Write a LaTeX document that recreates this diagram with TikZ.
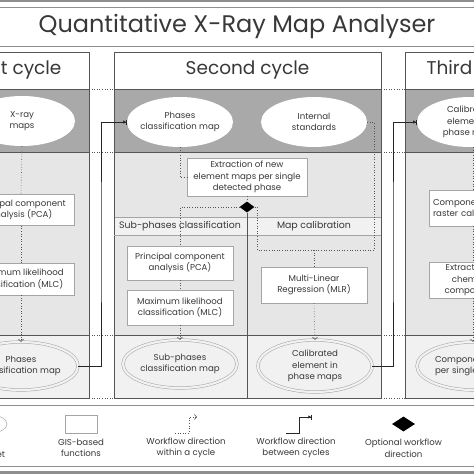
\documentclass[tikz,border=0pt]{standalone}
\usepackage{fontspec}
\setmainfont{Poppins}
\usetikzlibrary{shapes.geometric,arrows.meta,calc}
\definecolor{darkband}{HTML}{A9A9A9}
\definecolor{lightband}{HTML}{E6E6E6}
\definecolor{lowband}{HTML}{F1F1F1}
\definecolor{frame}{HTML}{555555}
\definecolor{boxline}{HTML}{A5A5A5}
\definecolor{ruleline}{HTML}{8E8E8E}
\definecolor{txt}{HTML}{383838}
\begin{document}
\begin{tikzpicture}[x=1pt,y=-1pt,
  every node/.style={text=txt},
  small/.style={font=\fontsize{8.6}{11.5}\selectfont},
  mid/.style={font=\fontsize{9.4}{12}\selectfont},
  ell/.style={ellipse,fill=white,minimum width=106pt,minimum height=50pt,inner xsep=-12pt,inner ysep=-4pt,align=center,small},
  dell/.style={ellipse,draw=boxline,double=lowband,double distance=2.2pt,line width=0.5pt,minimum width=114pt,minimum height=48pt,inner xsep=-12pt,inner ysep=-4pt,align=center,small},
  gbox/.style={rectangle,fill=white,draw=boxline,line width=0.5pt,minimum width=106pt,minimum height=32pt,inner sep=2pt,align=center,small},
  wf/.style={draw=frame,dotted,line width=0.6pt},
  wfa/.style={wf,-{Straight Barb[length=2.2pt,width=5pt,line width=0.6pt]}},
  bc/.style={draw=black!85,line width=0.7pt,-{Latex[length=3pt,width=3.5pt]Bar[width=5pt]}},
  cframe/.style={draw=frame,line width=0.7pt},
  gapdot/.style={draw=frame,dotted,line width=0.6pt},
  rulel/.style={draw=ruleline,line width=0.9pt},
  cyctitle/.style={font=\fontsize{18.5}{21}\selectfont},
  optdia/.style={diamond,fill=black,inner sep=0pt,aspect=1.4}
]
\useasboundingbox (0,0) rectangle (474,474);
% top title band
\fill[ruleline] (0,0) rectangle (474,2.2);
\draw[rulel] (0,7.5) -- (474,7.5);
\node[font=\fontsize{24}{28}\selectfont] (title) at (237,26) {Quantitative X-Ray Map Analyser};
\draw[rulel] (0,46) -- (474,46);

% cycle frames
\foreach \L/\R in {-180/89,114/381,405/680}{
  \fill[white] (\L,52) rectangle (\R,89);
  \fill[darkband] (\L,89) rectangle (\R,152);
  \fill[lightband] (\L,152) rectangle (\R,335);
  \fill[lowband] (\L,335) rectangle (\R,398);
  \draw[cframe] (\L,89) -- (\R,89) (\L,152) -- (\R,152) (\L,335) -- (\R,335);
  \draw[cframe] (\L,52) rectangle (\R,398);
}
\foreach \y in {89,152,335,398}{
  \draw[gapdot] (89,\y) -- (114,\y) (381,\y) -- (405,\y);
}
% sub-header of second cycle
\fill[lowband] (114,217) rectangle (381,235);
\draw[draw=boxline,line width=0.6pt] (114,217) -- (381,217) (114,235) -- (381,235);
\draw[cframe] (114,217) -- (114,235) (381,217) -- (381,235);
\node[mid] (subph) at (180,226) {Sub-phases classification};
\node[mid] (mapcal) at (314,226) {Map calibration};

% cycle titles
\node[cyctitle,anchor=east] (t1) at (65,70) {First cycle};
\node[cyctitle] (t2) at (247.5,70) {Second cycle};
\node[cyctitle,anchor=west] (t3) at (423,70) {Third cycle};

% first cycle
\node[ell] (xray) at (22,121) {X-ray\\maps};
\node[gbox,minimum height=31pt] (pca1) at (21,210) {Principal component\\analysis (PCA)};
\node[gbox,minimum height=32pt] (mlc1) at (21,279) {Maximum likelihood\\classification (MLC)};
\node[dell] (pcm1) at (21,366) {Phases\\classification map};

% second cycle
\node[ell] (pcm2) at (180,122) {Phases\\classification map};
\node[ell] (is) at (314,122) {Internal\\standards};
\node[gbox,minimum width=120pt,minimum height=38pt] (ext) at (247,177) {Extraction of new\\element maps per single\\detected phase};
\node[optdia,minimum width=15pt,minimum height=11pt] (dia) at (247,207) {};
\draw[cframe] (dia.south) -- (dia.south |- 0,398);
\node[gbox,minimum height=34pt] (pca2) at (180,263) {Principal component\\analysis (PCA)};
\node[gbox,minimum height=35pt] (mlc2) at (180,307.5) {Maximum likelihood\\classification (MLC)};
\node[dell] (spcm) at (180,364) {Sub-phases\\classification map};
\node[gbox,minimum height=36pt] (mlr) at (314,285) {Multi-Linear\\Regression (MLR)};
\node[dell,minimum height=52pt] (cal2) at (315,366) {Calibrated\\element in\\phase maps};

% third cycle
\node[ell] (cal3) at (470,122) {Calibrated\\element in\\phase maps};
\node[gbox,minimum width=86pt,minimum height=36pt,text width=78pt,align=left,inner sep=4pt] (comp3) at (472,208) {Component\\raster calculation};
\node[gbox,minimum width=86pt,minimum height=34pt] (ext3) at (472,280) {Extraction of\\chemical\\components};
\node[dell,text width=78pt,align=left] (cpsp) at (474,366) {Components\\per single phase};
\coordinate (col3) at (473,0);

% connectors within cycles
\draw[wf] (xray.south) -- (pca1.north);
\draw[wf] (pca1.south) -- (mlc1.north);
\draw[wfa] (mlc1.south) -- (pcm1.north);
\draw[wf] (pcm2.south) |- (ext.west);
\draw[wf] (ext.south) -- (dia.north);
\draw[wf] (dia.west) -| (pca2.north);
\coordinate (c1) at (374,250);
\coordinate (c2) at (257,250);
\draw[wf] (is.east) -| (c1) -- (c2) |- (dia.east);
\draw[wf] (mlr.north |- c1) -- (mlr.north);
\draw[wf] (pca2.south) -- (mlc2.north);
\draw[wfa] (mlc2.south) -- (spcm.north);
\draw[wfa] (mlr.south) -- (cal2.north);
\draw[wf] (cal3.south -| col3) -- (comp3.north -| col3);
\draw[wf] (comp3.south -| col3) -- (ext3.north -| col3);
\draw[wfa] (ext3.south -| col3) -- (cpsp.north -| col3);

% connectors between cycles
\coordinate (j1) at (101,240);
\draw[bc] (pcm1.east) -| (j1) |- (pcm2.west);
\coordinate (j2) at (393,240);
\draw[bc] (cal2.east) -| (j2) |- (cal3.west);

% legend
\draw[rulel] (0,405) -- (474,405);
\draw[rulel] (0,466) -- (474,466);
\fill[ruleline] (0,470.5) rectangle (474,474);
\node[ellipse,draw=boxline,line width=0.5pt,minimum width=34pt,minimum height=18pt] (lgell) at (-10,424) {};
\node[small,anchor=east] (lgelltxt) at (8.5,455) {Dataset};
\node[rectangle,draw=boxline,fill=white,line width=0.5pt,minimum width=32pt,minimum height=18pt,inner sep=0pt] (lgbox) at (81,424) {};
\node[small,align=center] (lgboxtxt) at (81,448) {GIS-based\\functions};
\coordinate (lw1) at (175,433);
\coordinate (lw2) at (189,417);
\coordinate (lw3) at (197,417);
\draw[wfa] (lw1) -| (lw2) -- (lw3);
\node[small,align=center] (lgwftxt) at (186,448) {Workflow direction\\within a cycle};
\coordinate (lb1) at (286,433);
\coordinate (lb2) at (299,417);
\coordinate (lb3) at (312,417);
\draw[bc] (lb1) -| (lb2) -- (lb3);
\node[small,align=center] (lgbctxt) at (296,448) {Workflow direction\\between cycles};
\node[optdia,minimum width=23pt,minimum height=15pt] (lgdia) at (403.5,424) {};
\node[small,align=center] (lgdiatxt) at (403.5,448) {Optional workflow\\direction};
\end{tikzpicture}
\end{document}
